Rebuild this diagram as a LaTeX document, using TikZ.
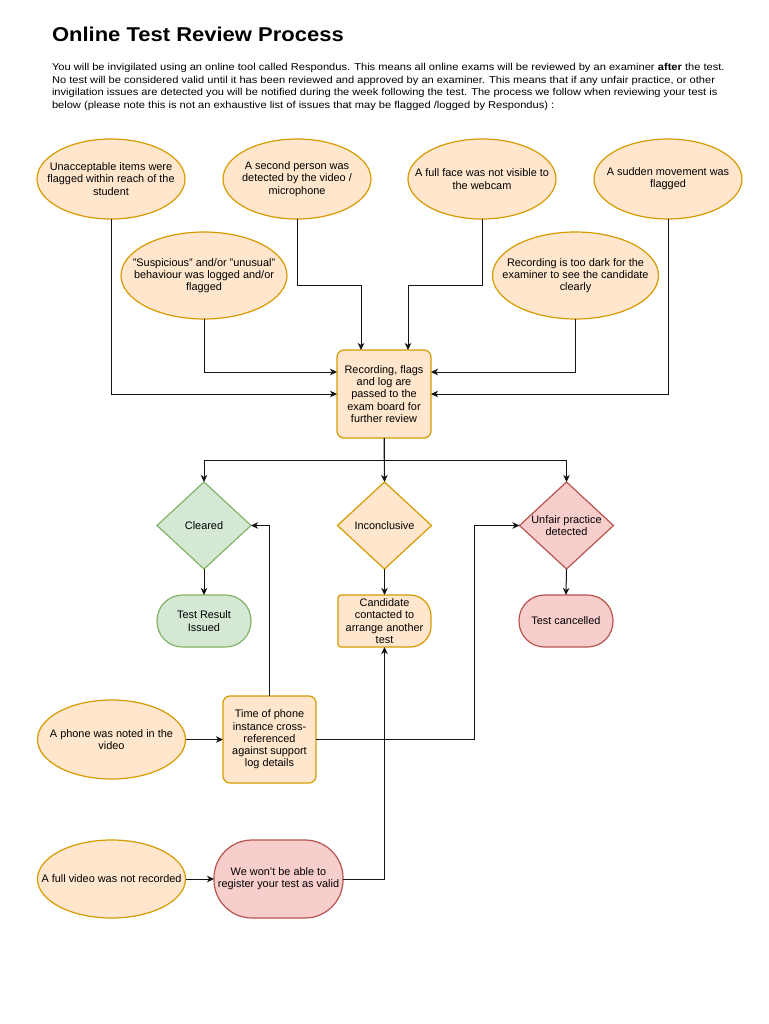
\documentclass[tikz,border=0pt]{standalone}
\usepackage{fontspec}
\setmainfont{Liberation Sans}
\usetikzlibrary{shapes.geometric,arrows.meta}
\definecolor{ofill}{HTML}{FFE6CC}
\definecolor{odraw}{HTML}{D79B00}
\definecolor{gfill}{HTML}{D5E8D4}
\definecolor{gdraw}{HTML}{82B366}
\definecolor{rfill}{HTML}{F8CECC}
\definecolor{rdraw}{HTML}{B85450}
\definecolor{lnk}{HTML}{141414}
\newcommand\plinebox[1]{\scalebox{1.11}[1]{#1}}
\begin{document}
\begin{tikzpicture}[x=1pt,y=-1pt,
  every node/.style={inner sep=0pt, outer sep=0pt},
  txt/.style={font=\fontsize{10.9}{12.3}\selectfont, align=center},
  ptxt/.style={font=\fontsize{10}{12}\selectfont, anchor=base west},
  oshape/.style={draw=odraw, fill=ofill, line width=1.2pt},
  gshape/.style={draw=gdraw, fill=gfill, line width=1.2pt},
  rshape/.style={draw=rdraw, fill=rfill, line width=1.2pt},
  ellip/.style={oshape, ellipse, minimum width=148pt, minimum height=80pt},
  bigellip/.style={oshape, ellipse, minimum width=166pt, minimum height=87pt},
  procbox/.style={oshape, rectangle, rounded corners=7pt, minimum width=94pt, minimum height=88pt},
  decision/.style={diamond, minimum width=94pt, minimum height=87pt},
  stadium/.style={rectangle, rounded corners=25.5pt, minimum width=94pt, minimum height=52pt},
  conn/.style={draw=lnk, line width=1pt, -{Stealth[length=7pt,width=6.5pt,inset=2pt]}}
]
\useasboundingbox (0,0) rectangle (768,1024);
\fill[white] (0,0) rectangle (768,1024);

% title and introduction
\node[font=\fontsize{20}{24}\selectfont\bfseries, anchor=base west] (title) at (52,42) {\scalebox{1.1}[1]{Online Test Review Process}};
\node[ptxt] (p1) at (52,70.6) {\plinebox{You will be invigilated using an online tool called Respondus. This means all online exams will be reviewed by an examiner \textbf{after} the test.}};
\node[ptxt] (p2) at (52,83.2) {\plinebox{No test will be considered valid until it has been reviewed and approved by an examiner. This means that if any unfair practice, or other}};
\node[ptxt] (p3) at (52,95.8) {\plinebox{invigilation issues are detected you will be notified during the week following the test. The process we follow when reviewing your test is}};
\node[ptxt] (p4) at (52,108.4) {\plinebox{below (please note this is not an exhaustive list of issues that may be flagged /logged by Respondus) :}};

% top ellipses
\node[ellip] (e1) at (111,179) {};
\node[txt] (e1t) at (e1) {Unacceptable items were\\flagged within reach of the\\student};
\node[ellip] (e2) at (297,179) {};
\node[txt] (e2t) at (e2) {A second person was\\detected by the video /\\microphone};
\node[ellip] (e3) at (482,179) {};
\node[txt] (e3t) at (e3) {A full face was not visible to\\the webcam};
\node[ellip] (e4) at (668,179) {};
\node[txt] (e4t) at (e4) {A sudden movement was\\flagged};
\node[bigellip] (e5) at (204,275.5) {};
\node[txt] (e5t) at (e5) {"Suspicious" and/or "unusual"\\behaviour was logged and/or\\flagged};
\node[bigellip] (e6) at (575.5,275.5) {};
\node[txt] (e6t) at (e6) {Recording is too dark for the\\examiner to see the candidate\\clearly};

% central box
\node[procbox] (box) at (384,394) {};
\node[txt] (boxt) at (box) {Recording, flags\\and log are\\passed to the\\exam board for\\further review};

% decisions
\node[decision, gshape] (d1) at (204,525.5) {};
\node[txt] (d1t) at (d1) {Cleared};
\node[decision, oshape] (d2) at (384.5,525.5) {};
\node[txt] (d2t) at (d2) {Inconclusive};
\node[decision, rshape] (d3) at (566.5,525.5) {};
\node[txt] (d3t) at (d3) {Unfair practice\\detected};

% outcomes
\node[stadium, gshape] (t1) at (204,621) {};
\node[txt] (t1t) at (t1) {Test Result\\Issued};
\node[minimum width=93pt, minimum height=52pt] (cand) at (384.5,621) {};
\draw[oshape] (cand.south west) [rounded corners=3pt] -- (cand.north west) [rounded corners=21pt] -- (cand.north east) -- (cand.south east) [rounded corners=3pt] -- cycle;
\node[txt] (candt) at (cand) {Candidate\\contacted to\\arrange another\\test};
\node[stadium, rshape] (t3) at (566,621) {};
\node[txt] (t3t) at (t3) {Test cancelled};

% lower part
\node[ellip, minimum height=79pt] (e7) at (111.5,739.5) {};
\node[txt] (e7t) at (e7) {A phone was noted in the\\video};
\node[oshape, rectangle, rounded corners=7pt, minimum width=93pt, minimum height=87pt] (tb) at (269.5,739.5) {};
\node[txt] (tbt) at (tb) {Time of phone\\instance cross-\\referenced\\against support\\log details};
\node[ellip, minimum height=78pt] (e8) at (111.5,879) {};
\node[txt] (e8t) at (e8) {A full video was not recorded};
\node[stadium, rshape, rounded corners=38pt, minimum width=129pt, minimum height=78pt] (w) at (278.5,879) {};
\node[txt] (wt) at (w) {We won't be able to\\register your test as valid};

% connectors into the central box
\draw[conn] (e1.south) |- (box.west);
\draw[conn] (e5.south) |- ([yshift=22pt]box.west);
\draw[conn] (e2.south) -- ++(0,66) -| ([xshift=-23pt]box.north);
\draw[conn] (e3.south) -- ++(0,66) -| ([xshift=24pt]box.north);
\draw[conn] (e6.south) |- ([yshift=22pt]box.east);
\draw[conn] (e4.south) |- (box.east);

% central box to decisions
\draw[conn] (box.south) -- (d2.north);
\draw[conn] (box.south) -- ++(0,22) -| (d1.north);
\draw[conn] (box.south) -- ++(0,22) -| (d3.north);

% decisions to outcomes
\draw[conn] (d1.south) -- (t1.north);
\draw[conn] (d2.south) -- (cand.north);
\draw[conn] (d3.south) -- (t3.north);

% lower flows
\draw[conn] (e7.east) -- (tb.west);
\draw[conn] (tb.north) |- (d1.east);
\draw[conn] (tb.east) -- ++(158,0) |- (d3.west);
\draw[conn] (e8.east) -- (w.west);
\draw[conn] (w.east) -| (cand.south);
\end{tikzpicture}
\end{document}
